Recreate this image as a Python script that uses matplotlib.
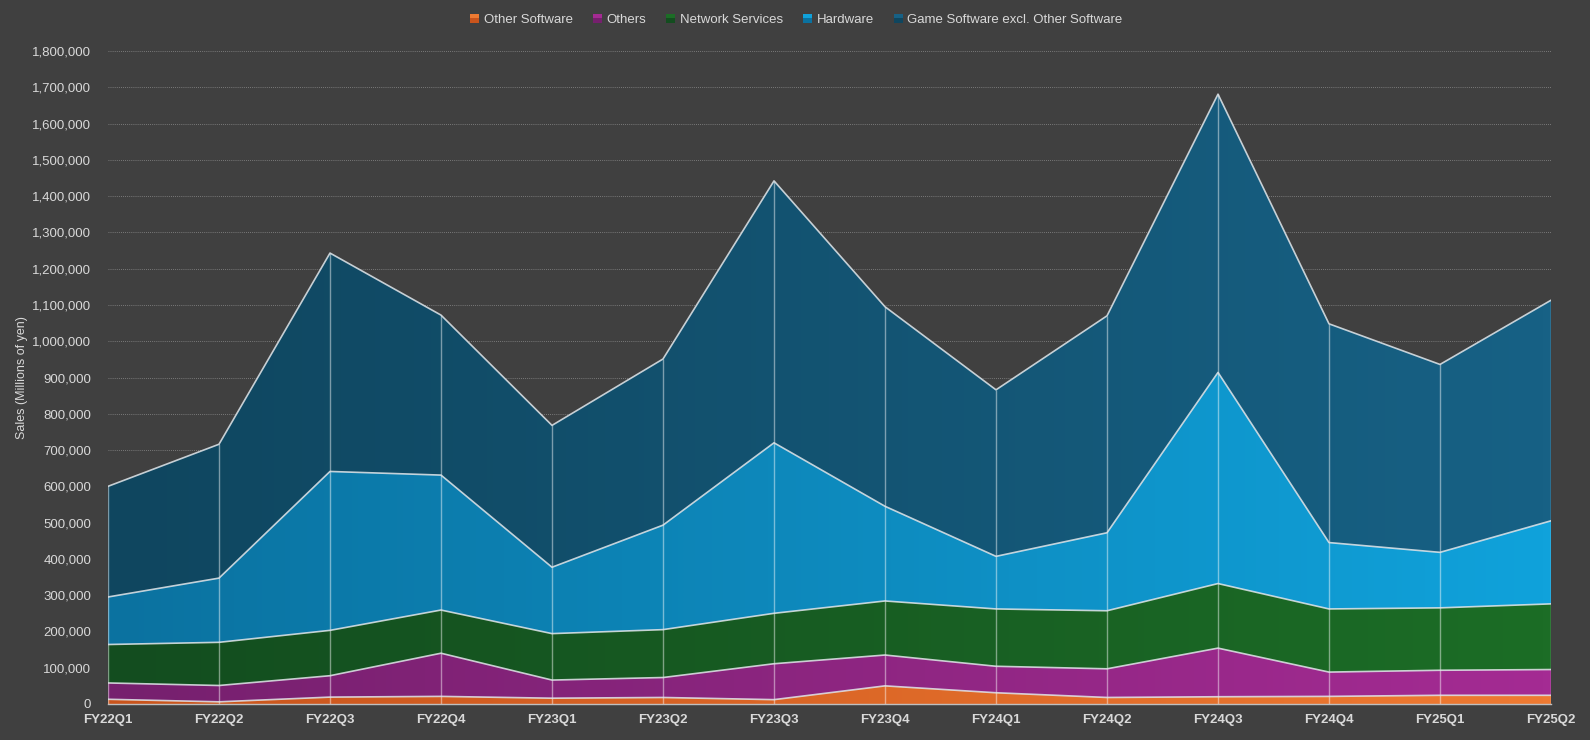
import numpy as np
import matplotlib
matplotlib.use("Agg")
import matplotlib.pyplot as plt
from matplotlib.patches import Polygon, Rectangle
from matplotlib.colors import LinearSegmentedColormap
from matplotlib.ticker import FuncFormatter, MultipleLocator
from matplotlib.legend_handler import HandlerBase

quarters = ["FY22Q1", "FY22Q2", "FY22Q3", "FY22Q4", "FY23Q1", "FY23Q2", "FY23Q3",
            "FY23Q4", "FY24Q1", "FY24Q2", "FY24Q3", "FY24Q4", "FY25Q1", "FY25Q2"]

other_software = [13000, 6000, 19000, 21000, 16000, 18000, 12000, 50000, 31000, 18000, 20000, 21000, 24000, 24000]
others = [45000, 45000, 59000, 119000, 50000, 55000, 99000, 85000, 73000, 79000, 134000, 67000, 69000, 71000]
network_services = [106000, 119000, 125000, 119000, 128000, 132000, 139000, 149000, 158000, 160000, 178000, 174000, 172000, 181000]
hardware = [131000, 177000, 438000, 372000, 183000, 288000, 470000, 261000, 145000, 215000, 582000, 183000, 153000, 229000]
game_software = [305000, 369000, 602000, 441000, 391000, 458000, 722000, 550000, 459000, 598000, 767000, 603000, 518000, 608000]

series_names = ["Other Software", "Others", "Network Services", "Hardware",
                "Game Software excl. Other Software"]
series_values = [other_software, others, network_services, hardware, game_software]
# (left colour, right colour) of the horizontal gradient
series_colors = [("#C9541C", "#EE7A32"),
                 ("#76206E", "#A42B93"),
                 ("#134D1F", "#1C6D26"),
                 ("#0B72A0", "#10A2DB"),
                 ("#0F465F", "#176185")]

BG = "#404040"
TXT = "#D9D9D9"
plt.rcParams["font.family"] = ["Liberation Sans", "DejaVu Sans"]

fig = plt.figure(figsize=(15.9, 7.4), dpi=100, facecolor=BG)
ax = fig.add_axes([108 / 1590, 36 / 740, (1551 - 108) / 1590, (704 - 51) / 740])
ax.set_facecolor(BG)

x = np.arange(len(quarters))
ax.set_xlim(x[0], x[-1])
ax.set_ylim(0, 1800000)

ax.yaxis.set_major_locator(MultipleLocator(100000))
ax.grid(axis="y", color="#8C8C8C", linestyle=(0, (1, 1.5)), linewidth=0.6, zorder=0)
ax.set_axisbelow(True)

base = np.zeros(len(x))
grad = np.linspace(0, 1, 256).reshape(1, -1)
for name, vals, (c0, c1) in zip(series_names, series_values, series_colors):
    vals = np.asarray(vals, dtype=float)
    top = base + vals
    verts = np.vstack([np.column_stack([x, top]), np.column_stack([x[::-1], base[::-1]])])
    poly = Polygon(verts, closed=True, facecolor="none", edgecolor="none", transform=ax.transData)
    ax.add_patch(poly)
    cmap = LinearSegmentedColormap.from_list(name, [c0, c1])
    im = ax.imshow(grad, cmap=cmap, aspect="auto", extent=[x[0], x[-1], 0, 1800000],
                   origin="lower", zorder=2, interpolation="bilinear")
    im.set_clip_path(poly)
    ax.plot(x, top, color="#E3E8EC", alpha=0.85, linewidth=1.2, zorder=4)
    base = top

# drop lines
ax.vlines(x, 0, base, colors="#FFFFFF", alpha=0.45, linewidth=1.0, zorder=3)

ax.set_xticks(x)
ax.set_xticklabels(quarters, fontweight="bold", color=TXT, fontsize=9.5)
ax.yaxis.set_major_formatter(FuncFormatter(lambda v, p: f"{int(v):,}"))
ax.tick_params(axis="y", colors=TXT, labelsize=9.5, length=0, pad=12)
ax.tick_params(axis="x", length=0, pad=7)

for s in ["top", "right", "left"]:
    ax.spines[s].set_visible(False)
ax.spines["bottom"].set_color("#BFBFBF")
ax.spines["bottom"].set_linewidth(1.0)
ax.spines["bottom"].set_zorder(5)

ax.set_ylabel("Sales (Millions of yen)", color=TXT, fontsize=9)
ax.yaxis.set_label_coords((28 - 108) / (1551 - 108), 0.5)


class GradHandler(HandlerBase):
    def __init__(self, colors):
        super().__init__()
        self.colors = colors

    def create_artists(self, legend, orig_handle, xdescent, ydescent, width, height, fontsize, trans):
        c0, c1 = self.colors[orig_handle.get_label()]
        s = 6.5
        x0 = xdescent + width - s
        y0 = ydescent + (height - s) / 2
        r1 = Rectangle((x0, y0 + s * 0.6), s, s * 0.4, facecolor=c1, edgecolor="none", transform=trans)
        r2 = Rectangle((x0, y0), s, s * 0.6, facecolor=c0, edgecolor="none", transform=trans)
        return [r2, r1]


handles = [Rectangle((0, 0), 1, 1, label=n) for n in series_names]
cmap_dict = {n: c for n, c in zip(series_names, series_colors)}
leg = fig.legend(handles=handles, labels=series_names, loc="center", bbox_to_anchor=(0.5, 1 - 20 / 740),
                 ncol=5, frameon=False, fontsize=9.5, handlelength=0.9, handletextpad=0.35,
                 columnspacing=1.3, handler_map={h: GradHandler(cmap_dict) for h in handles})
for t in leg.get_texts():
    t.set_color(TXT)

fig.savefig("out.png", dpi=100, facecolor=BG)
